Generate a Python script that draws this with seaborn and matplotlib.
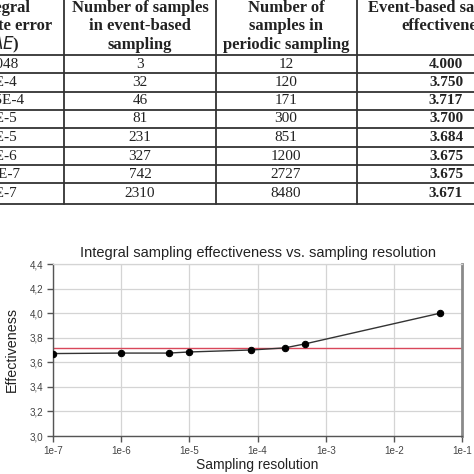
import matplotlib
matplotlib.use("Agg")
import matplotlib.pyplot as plt
from matplotlib.lines import Line2D
from matplotlib.ticker import FixedLocator, FuncFormatter, NullLocator
import seaborn as sns
import pandas as pd
import numpy as np

# ---------------- data ----------------
resolution = [1e-7, 1e-6, 5e-6, 1e-5, 8e-5, 2.5e-4, 5e-4, 0.048]
effectiveness = [3.671, 3.675, 3.675, 3.684, 3.700, 3.717, 3.750, 4.000]
reference_level = 3.72

row_labels = ["0.048", "5E-4", "2.5E-4", "8E-5", "1E-5", "5E-6", "9.8E-7", "1E-7"]
event_samples = ["3", "32", "46", "81", "231", "327", "742", "2310"]
periodic_samples = ["12", "120", "171", "300", "851", "1200", "2727", "8480"]
table_eff = ["4.000", "3.750", "3.717", "3.700", "3.684", "3.675", "3.675", "3.671"]

title = "Integral sampling effectiveness vs. sampling resolution"
xlabel = "Sampling resolution"
ylabel = "Effectiveness"
xticks = [1e-7, 1e-6, 1e-5, 1e-4, 1e-3, 1e-2, 1e-1]
xtick_labels = ["1e-7", "1e-6", "1e-5", "1e-4", "1e-3", "1e-2", "1e-1"]
yticks = [3.0, 3.2, 3.4, 3.6, 3.8, 4.0, 4.2, 4.4]

# ---------------- figure ----------------
sns.set_theme(style="white")
plt.rcParams["font.family"] = ["Liberation Sans", "DejaVu Sans"]

W = H = 474
fig = plt.figure(figsize=(4.74, 4.74), dpi=100)
fig.patch.set_facecolor("white")

def fx(x):
    return x / W

def fy(y):
    return 1 - y / H

serif = ["Liberation Serif", "DejaVu Serif"]
ink = "#222222"

# ---- table lines ----
row_lines = [55, 73, 92, 110, 128, 147, 165, 183, 204]
for y in row_lines:
    fig.add_artist(Line2D([0, 1], [fy(y), fy(y)], transform=fig.transFigure,
                          color="#333333", lw=1.3))
for x in [64, 216, 357]:
    fig.add_artist(Line2D([fx(x), fx(x)], [fy(0), fy(204)], transform=fig.transFigure,
                          color="#333333", lw=1.3))

# ---- table header ----
hdr_y = [8, 26, 45]
fs_h = 12
fs_b = 11
fig.text(fx(30), fy(hdr_y[0]), "Integral", ha="right", va="center",
         fontsize=fs_h, fontweight="bold", family=serif, color=ink)
fig.text(fx(52), fy(hdr_y[1]), "absolute error", ha="right", va="center",
         fontsize=fs_h, fontweight="bold", family=serif, color=ink)
fig.text(fx(20), fy(hdr_y[2]), "(I$\\bf{\\it{AE}}$)", ha="right", va="center",
         fontsize=fs_h, fontweight="bold", family=serif, color=ink)

col2 = ["Number of samples", "in event-based", "sampling"]
col3 = ["Number of", "samples in", "periodic sampling"]
col4 = ["Event-based sampling", "effectiveness"]
for i, t in enumerate(col2):
    fig.text(fx(140), fy(hdr_y[i]), t, ha="center", va="center",
             fontsize=fs_h, fontweight="bold", family=serif, color=ink)
for i, t in enumerate(col3):
    fig.text(fx(286), fy(hdr_y[i]), t, ha="center", va="center",
             fontsize=fs_h, fontweight="bold", family=serif, color=ink)
for i, t in enumerate(col4):
    fig.text(fx(446), fy(hdr_y[i]), t, ha="center", va="center",
             fontsize=fs_h, fontweight="bold", family=serif, color=ink)

# ---- table body ----
row_centers = [(row_lines[i] + row_lines[i + 1]) / 2 for i in range(8)]
label_ends = [19, 17, 25, 17, 17, 17, 21, 17]
for i in range(8):
    yc = fy(row_centers[i])
    fig.text(fx(label_ends[i]), yc, row_labels[i], ha="right", va="center",
             fontsize=fs_b, family=serif, color=ink)
    fig.text(fx(140), yc, event_samples[i], ha="center", va="center",
             fontsize=fs_b, family=serif, color=ink)
    fig.text(fx(286), yc, periodic_samples[i], ha="center", va="center",
             fontsize=fs_b, family=serif, color=ink)
    fig.text(fx(446), yc, table_eff[i], ha="center", va="center",
             fontsize=fs_b, fontweight="bold", family=serif, color=ink)

# ---------------- chart ----------------
ax = fig.add_axes([fx(53), fy(436), fx(462) - fx(53), fy(264) - fy(436)])
df = pd.DataFrame({"res": resolution, "eff": effectiveness})

ax.axhline(reference_level, color="#d9475a", lw=1.0, zorder=2)
sns.lineplot(data=df, x="res", y="eff", ax=ax, color="#333333", lw=1.0,
             marker="o", markersize=4.6, markerfacecolor="black",
             markeredgecolor="black", zorder=3)

ax.set_xscale("log")
ax.set_xlim(1e-7, 1e-1)
ax.set_ylim(3.0, 4.4)
ax.xaxis.set_major_locator(FixedLocator(xticks))
ax.xaxis.set_minor_locator(NullLocator())
ax.xaxis.set_major_formatter(FuncFormatter(
    lambda v, p: xtick_labels[int(np.argmin([abs(np.log10(v) - np.log10(t)) for t in xticks]))]))
ax.yaxis.set_major_locator(FixedLocator(yticks))
ax.yaxis.set_major_formatter(FuncFormatter(lambda v, p: f"{v:.1f}".replace(".", ",")))

ax.grid(True, color="#d4d4d4", lw=0.9)
ax.set_axisbelow(True)
for s in ["left", "bottom"]:
    ax.spines[s].set_color("#555555")
    ax.spines[s].set_linewidth(1.0)
ax.spines["right"].set_color("#8a8a8a")
ax.spines["right"].set_linewidth(2.0)
ax.spines["top"].set_color("#d4d4d4")
ax.spines["top"].set_linewidth(0.9)

ax.tick_params(axis="both", which="major", direction="out", length=4, width=1,
               color="#555555", labelsize=7.1, labelcolor="#444444", pad=3,
               left=True, bottom=True)

ax.set_title(title, fontsize=10.5, color="#222222", pad=5)
ax.set_xlabel(xlabel, fontsize=10, color="#222222", labelpad=2)
ax.set_ylabel(ylabel, fontsize=10.3, color="#222222", labelpad=8)

fig.savefig("out.png", dpi=100, facecolor="white")
